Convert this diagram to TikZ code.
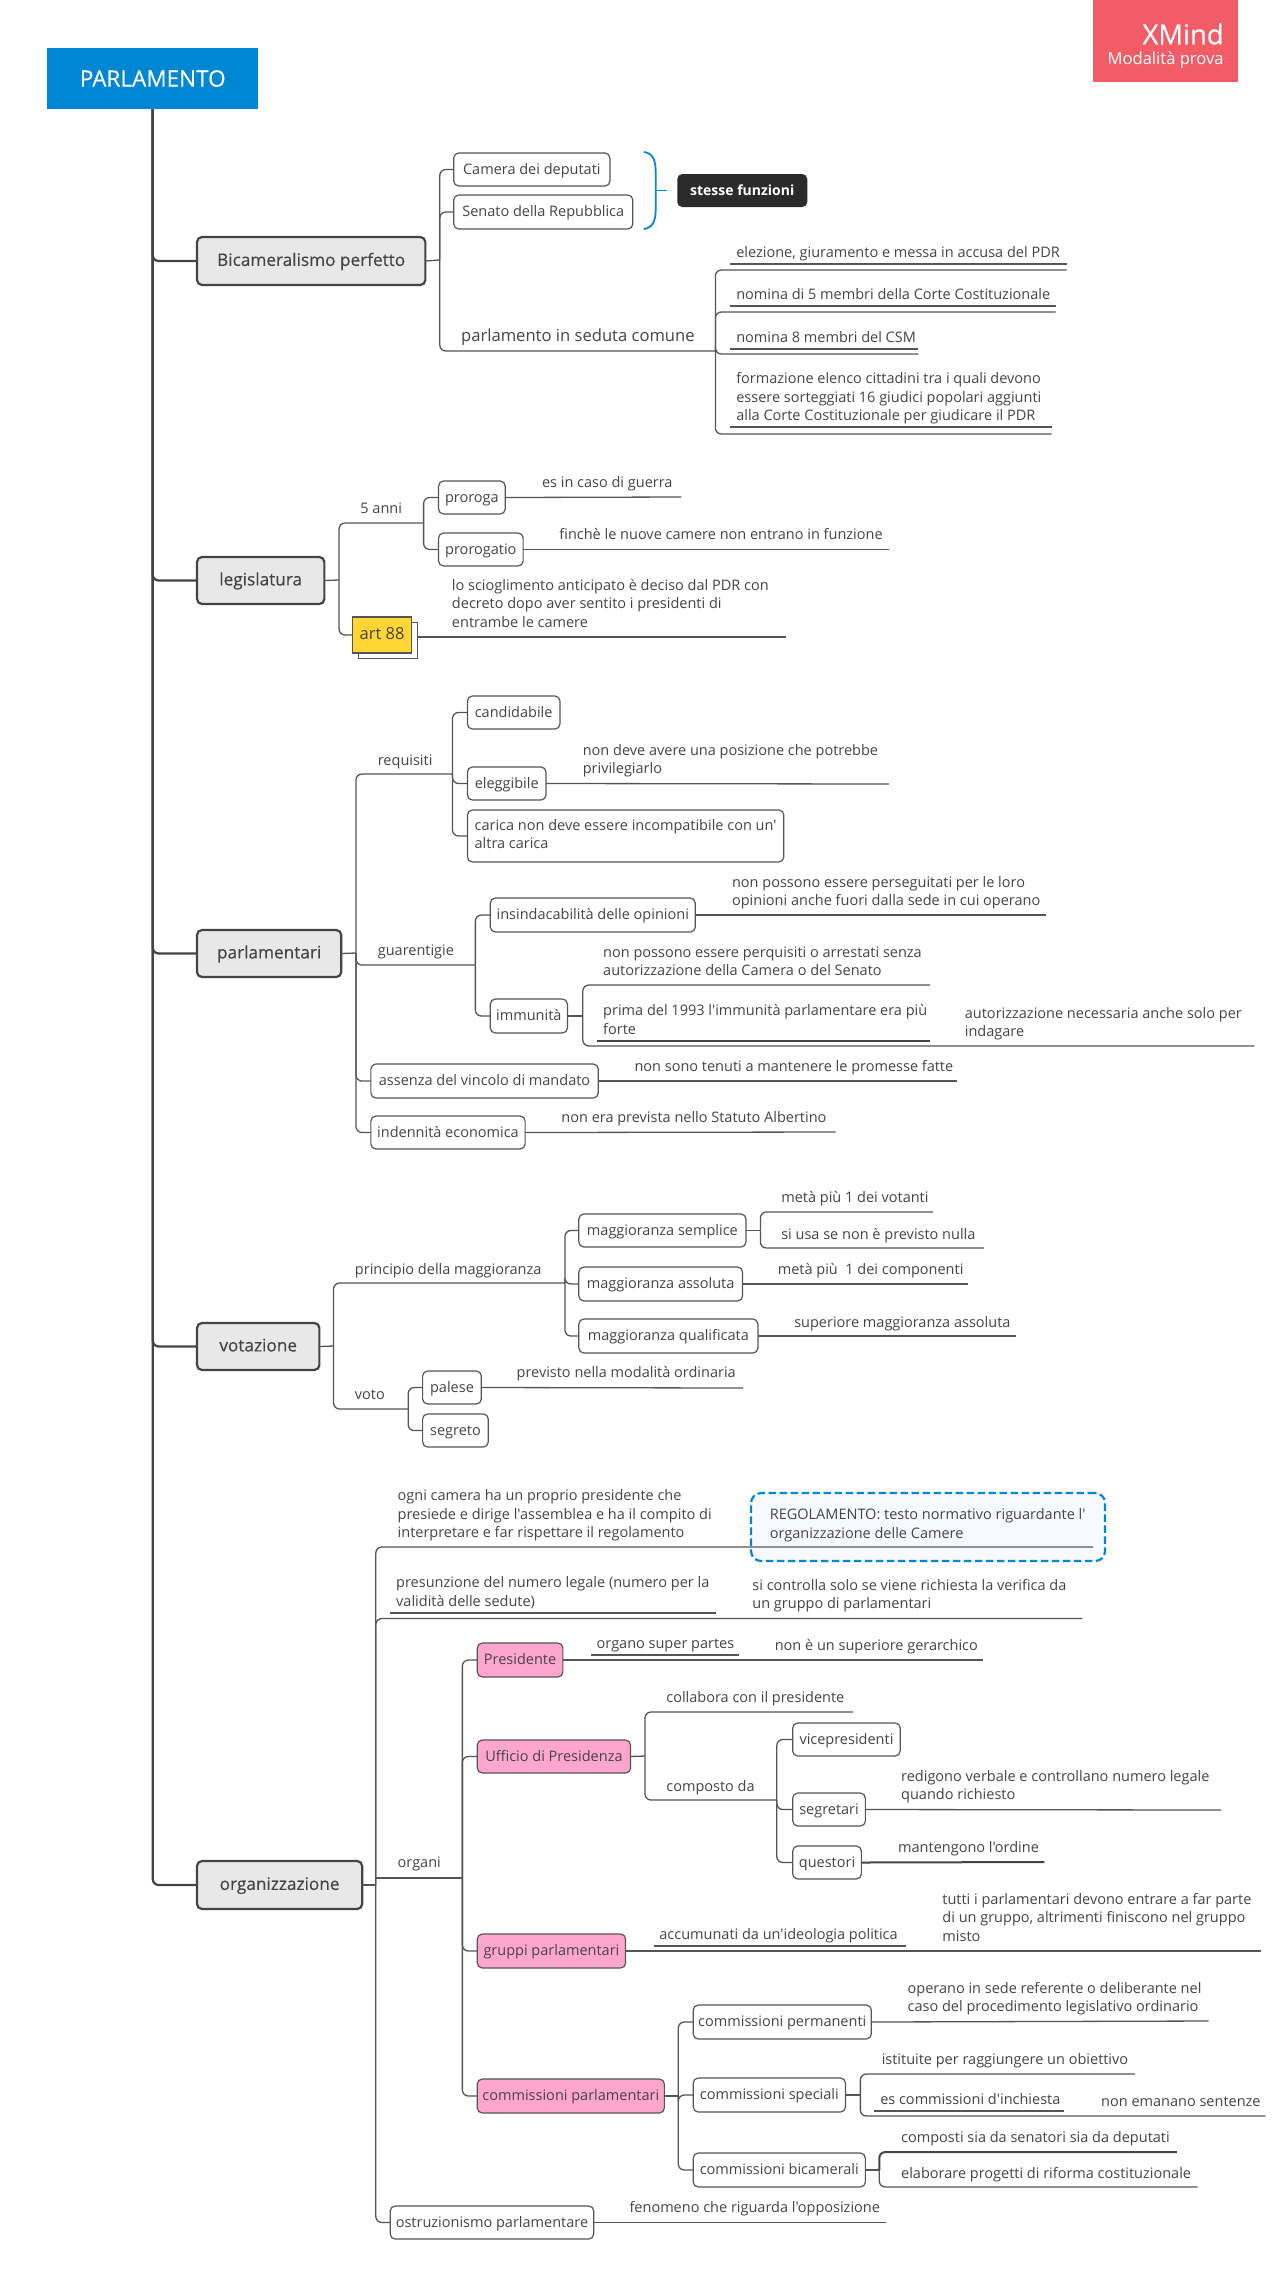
\documentclass[tikz,border=0pt]{standalone}
\usepackage{fontspec}
\setmainfont[Ligatures=TeXOff]{Open Sans}
\newfontfamily\medf[FakeBold=0.3,Ligatures=TeXOff]{Open Sans}
\definecolor{ink}{HTML}{444444}
\definecolor{linec}{HTML}{555555}
\definecolor{topicfill}{HTML}{E8E8E8}
\definecolor{pinkfill}{HTML}{FFA6CF}
\definecolor{yell}{HTML}{FFD633}
\definecolor{bluec}{HTML}{0087D4}
\definecolor{redc}{HTML}{F25C66}
\definecolor{pill}{HTML}{2B2B2B}
\definecolor{regfill}{HTML}{F7F9FF}
\newcommand{\bstrut}{\rule[-4.35pt]{0pt}{18.5pt}}
\tikzset{
 x=.995pt,y=-1pt,
 txt/.style={anchor=west,inner sep=0,outer sep=0,align=left,text=ink,yshift=-1.2pt,font=\fontsize{14.5}{18.5}\selectfont,execute at begin node=\strut,execute at end node=\strut},
 boxbase/.style={rounded corners=5,inner sep=0,outer sep=0,align=left,text=ink,font=\fontsize{14.5}{18.5}\selectfont,execute at begin node=\bstrut,execute at end node=\bstrut},
 subbox/.style={boxbase,draw=linec,line width=1.2pt,fill=white},
 pinkbox/.style={boxbase,draw=linec,line width=1.2pt,fill=pinkfill},
 mainbox/.style={boxbase,draw=ink,line width=2.2pt,fill=topicfill,font=\fontsize{17.2}{18.5}\medf},
 spine/.style={draw=ink,line width=2.2pt,rounded corners=6},
 conn/.style={draw=linec,line width=1.3pt,rounded corners=6},
 ulin/.style={draw=linec,line width=1.3pt},
 uthick/.style={draw=ink,line width=2pt},
}
\newcommand{\bxt}[7][]{\node[#2,minimum width={(#5-#3)*.995},minimum height={#6-#4},#1] (#7) at ({(#3+#5)/2},{(#4+#6)/2})}
\newcommand{\lbl}[4]{\node[txt] (#1) at (#2,#3) {#4};}
\newcommand{\under}[5][ulin]{\coordinate (#2s) at (#3,#5);\coordinate (#2e) at (#4,#5);\draw[#1] (#2s) -- (#2e);}
\begin{document}
\begin{tikzpicture}
\path[use as bounding box,fill=white] (0,0) rectangle (1286.43,2287);
% watermark
\node[fill=redc,minimum width=145.3,minimum height=82,inner sep=0] (wm) at (1171.2,41) {};
\node[anchor=east,text=white,inner sep=0,font=\fontsize{27.4}{30}\medf] (wm1) at (1230,34) {XMind};
\node[anchor=east,text=white,inner sep=0,font=\fontsize{16.6}{20}\selectfont] (wm2) at (1230,60) {Modalità prova};
% root
\node[fill=bluec,text=white,minimum width=211,minimum height=61,inner sep=0,font=\fontsize{22.5}{26}\medf] (root) at (153.5,78.5) {PARLAMENTO};
% main topics
\bxt{mainbox}{198}{237}{427.5}{285}{bic} {Bicameralismo perfetto};
\bxt{mainbox}{198}{557}{326}{604}{leg} {legislatura};
\bxt{mainbox}{198}{930}{343}{977}{par} {parlamentari};
\bxt{mainbox}{198}{1323}{321}{1370}{vot} {votazione};
\bxt{mainbox}{198}{1861}{364}{1909}{org} {organizzazione};
\draw[spine] (root.south) |- (bic.west);
\draw[spine] (root.south) |- (leg.west);
\draw[spine] (root.south) |- (par.west);
\draw[spine] (root.south) |- (vot.west);
\draw[spine] (root.south) |- (org.west);

% --- Bicameralismo
\coordinate (bicbr) at (442,260);
\draw[conn] (bic.east) -- (bicbr);
\bxt{subbox}{456}{153}{613}{186}{cam} {Camera dei deputati};
\bxt{subbox}{456}{195}{636}{229}{sen} {Senato della Repubblica};
\draw[conn] (bicbr) |- (cam.west);
\draw[conn] (bicbr) |- (sen.west);
\draw[bluec,line width=1.8pt] (647,152) .. controls (656,153) and (659,160) .. (659,172) -- (659,209) .. controls (659,221) and (656,228) .. (647,229);
\draw[bluec,line width=1.8pt] (659,190.5) -- (670,190.5);
\node[fill=pill,rounded corners=5,text=white,minimum width=130,minimum height=33,inner sep=0,font=\fontsize{14}{18}\bfseries\selectfont] (stesse) at (746,190.5) {stesse funzioni};
\node[txt,font=\fontsize{16.6}{20}\selectfont] (psc) at (463.5,336) {parlamento in seduta comune};
\coordinate (pscbr) at (719,351);
\draw[conn] (bicbr) |- (pscbr);
\lbl{el}{740}{253}{elezione, giuramento e messa in accusa del PDR}
\under{elu}{734}{1072}{264}
\coordinate (ele) at (1072,270);
\draw[conn] (pscbr) |- (ele);
\lbl{no5}{740}{295}{nomina di 5 membri della Corte Costituzionale}
\under{no5u}{734}{1061}{306}
\coordinate (no5e) at (1061,312);
\draw[conn] (pscbr) |- (no5e);
\lbl{no8}{740}{338}{nomina 8 membri del CSM}
\under{no8u}{734}{923}{349}
\coordinate (no8e) at (923,354);
\draw[conn] (pscbr) |- (no8e);
\lbl{form}{740}{398.5}{formazione elenco cittadini tra i quali devono\\essere sorteggiati 16 giudici popolari aggiunti\\alla Corte Costituzionale per giudicare il PDR}
\under{formu}{734}{1057}{427}
\coordinate (forme) at (1057,434);
\draw[conn] (pscbr) |- (forme);

\begin{scope}[xshift=.75pt]
% --- legislatura
\coordinate (legbr) at (340,580);
\draw[conn] (leg.east) -- (legbr);
\lbl{anni}{361.5}{509}{5 anni}
\coordinate (annibr) at (425,523);
\draw[conn] (legbr) |- (annibr);
\bxt{subbox}{440}{481}{507}{514}{prog} {proroga};
\bxt{subbox}{440}{533}{525}{566}{progt} {prorogatio};
\draw[conn] (annibr) |- (prog.west);
\draw[conn] (annibr) |- (progt.west);
\lbl{guer}{544}{483}{es in caso di guerra}
\coordinate (guere) at (684,497);
\draw[ulin] (prog.east) -- (guere);
\lbl{finc}{561.5}{535}{finchè le nuove camere non entrano in funzione}
\coordinate (fince) at (892.5,549.5);
\draw[ulin] (progt.east) -- (fince);
\draw[draw=linec,line width=1pt,fill=white] (360,622) rectangle (419,658);
\bxt[rounded corners=0,fill=yell,text=ink,font=\fontsize{16.5}{18.5}\selectfont]{subbox}{353.5}{617}{413}{653}{art} {art 88};
\draw[conn] (legbr) |- (art.west);
\lbl{sciog}{453.5}{605}{lo scioglimento anticipato è deciso dal PDR con\\decreto dopo aver sentito i presidenti di\\entrambe le camere}
\coordinate (sciogs) at (419,637);
\coordinate (scioge) at (789,637);
\draw[ulin] (sciogs) -- (scioge);

% --- parlamentari
\coordinate (parbr) at (357,953);
\draw[conn] (par.east) -- (parbr);
\lbl{req}{379}{761}{requisiti}
\coordinate (reqbr) at (454,774);
\draw[conn] (parbr) |- (reqbr);
\bxt{subbox}{469}{696}{562}{729}{cand} {candidabile};
\bxt{subbox}{469}{767}{548}{800}{eleg} {eleggibile};
\bxt{subbox}{469}{810}{787}{862}{car} {carica non deve essere incompatibile con un'\\altra carica};
\draw[conn] (reqbr) |- (cand.west);
\draw[conn] (reqbr) |- (eleg.west);
\draw[conn] (reqbr) |- (car.west);
\lbl{nondeve}{585}{760.5}{non deve avere una posizione che potrebbe\\privilegiarlo}
\coordinate (nondevee) at (892.5,784);
\draw[ulin] (eleg.east) -- (nondevee);
\lbl{gua}{379}{951}{guarentigie}
\coordinate (guabr) at (477,965);
\draw[conn] (parbr) |- (guabr);
\bxt{subbox}{492}{898}{698}{932}{ins} {insindacabilità delle opinioni};
\bxt{subbox}{492}{999}{569.5}{1033}{imm} {immunità};
\draw[conn] (guabr) |- (ins.west);
\draw[conn] (guabr) |- (imm.west);
\lbl{pers}{735}{892.5}{non possono essere perseguitati per le loro\\opinioni anche fuori dalla sede in cui operano}
\coordinate (perse) at (1050,915);
\draw[ulin] (ins.east) -- (perse);
\coordinate (immbr) at (585,1016);
\draw[conn] (imm.east) -- (immbr);
\lbl{perq}{605.5}{962.5}{non possono essere perquisiti o arrestati senza\\autorizzazione della Camera o del Senato}
\coordinate (perqe) at (934,985);
\draw[conn] (immbr) |- (perqe);
\lbl{prima}{605.5}{1021}{prima del 1993 l'immunità parlamentare era più\\forte}
\under[uthick]{primau}{599}{934}{1041}
\coordinate (primae) at (1260,1046);
\draw[conn] (immbr) |- (primae);
\lbl{aut}{969}{1023.5}{autorizzazione necessaria anche solo per\\indagare}
\bxt{subbox}{372}{1064}{600.5}{1098}{ass} {assenza del vincolo di mandato};
\bxt{subbox}{372}{1116}{527}{1149}{ind} {indennità economica};
\draw[conn] (parbr) |- (ass.west);
\draw[conn] (parbr) |- (ind.west);
\lbl{ten}{637}{1067}{non sono tenuti a mantenere le promesse fatte}
\coordinate (tene) at (961,1081);
\draw[ulin] (ass.east) -- (tene);
\lbl{stat}{563.5}{1118}{non era prevista nello Statuto Albertino}
\coordinate (state) at (839,1132);
\draw[ulin] (ind.east) -- (state);

% --- votazione
\coordinate (votbr) at (334.5,1346);
\draw[conn] (vot.east) -- (votbr);
\lbl{pri}{356}{1270}{principio della maggioranza}
\coordinate (pribr) at (567,1283);
\draw[conn] (votbr) |- (pribr);
\bxt{subbox}{581}{1214}{749}{1247}{msem} {maggioranza semplice};
\bxt{subbox}{581}{1267}{745.5}{1301}{mass} {maggioranza assoluta};
\bxt{subbox}{581}{1319}{761}{1353}{mqua} {maggioranza qualificata};
\draw[conn] (pribr) |- (msem.west);
\draw[conn] (pribr) |- (mass.west);
\draw[conn] (pribr) |- (mqua.west);
\coordinate (msbr) at (763.5,1230.5);
\draw[conn] (msem.east) -- (msbr);
\lbl{vot1}{784.5}{1198}{metà più 1 dei votanti}
\coordinate (vot1e) at (937,1212);
\draw[conn] (msbr) |- (vot1e);
\lbl{siusa}{784.5}{1235}{si usa se non è previsto nulla}
\coordinate (siusae) at (988,1248);
\draw[conn] (msbr) |- (siusae);
\lbl{metac}{781}{1270}{metà più\ \ 1 dei componenti}
\coordinate (metace) at (972,1284);
\draw[ulin] (mass.east) -- (metace);
\lbl{sup}{797.5}{1323}{superiore maggioranza assoluta}
\coordinate (supe) at (1020.5,1336);
\draw[ulin] (mqua.east) -- (supe);
\lbl{voto}{356}{1395}{voto}
\coordinate (votobr) at (409.5,1409);
\draw[conn] (votbr) |- (votobr);
\bxt{subbox}{424}{1371}{483}{1404}{pal} {palese};
\bxt{subbox}{424}{1414}{490}{1447}{seg} {segreto};
\draw[conn] (votobr) |- (pal.west);
\draw[conn] (votobr) |- (seg.west);
\lbl{prev}{518.5}{1373}{previsto nella modalità ordinaria}
\coordinate (preve) at (746,1388);
\draw[ulin] (pal.east) -- (preve);
\end{scope}

\begin{scope}[xshift=1.7pt]
% --- organizzazione
\coordinate (orgbr) at (376,1885);
\draw[conn] (org.east) -- (orgbr);
\node[draw=bluec,dash pattern=on 7.5pt off 3.5pt,line width=2.2pt,fill=regfill,rounded corners=10,minimum width=354,minimum height=68,inner sep=0] (reg) at (931,1527) {};
\lbl{ogni}{398}{1515.5}{ogni camera ha un proprio presidente che\\presiede e dirige l'assemblea e ha il compito di\\interpretare e far rispettare il regolamento}
\lbl{regt}{772}{1525}{REGOLAMENTO: testo normativo riguardante l'\\organizzazione delle Camere}
\coordinate (ognie) at (1097,1547);
\draw[conn] (orgbr) |- (ognie);
\lbl{pres}{396.5}{1593}{presunzione del numero legale (numero per la\\validità delle sedute)}
\under{presu}{390.5}{718}{1613}
\lbl{sic}{754.5}{1595.5}{si controlla solo se viene richiesta la verifica da\\un gruppo di parlamentari}
\coordinate (sice) at (1086,1618.5);
\draw[conn] (orgbr) |- (sice);
\lbl{organi}{398}{1863}{organi}
\coordinate (orbr) at (463,1878);
\draw[conn] (orgbr |- orbr) -- (orbr);
\bxt{pinkbox}{478}{1643}{564}{1677}{presi} {Presidente};
\bxt{pinkbox}{478}{1740}{632}{1773}{uff} {Ufficio di Presidenza};
\bxt{pinkbox}{478}{1934}{627}{1968}{grup} {gruppi parlamentari};
\bxt{pinkbox}{478}{2079}{666}{2113}{comm} {commissioni parlamentari};
\draw[conn] (orbr) |- (presi.west);
\draw[conn] (orbr) |- (uff.west);
\draw[conn] (orbr) |- (grup.west);
\draw[conn] (orbr) |- (comm.west);
\lbl{orgsp}{598}{1644}{organo super partes}
\under{orgspu}{592.5}{741}{1655}
\lbl{gera}{777}{1646}{non è un superiore gerarchico}
\coordinate (gerae) at (986,1660);
\draw[ulin] (presi.east) -- (gerae);
\coordinate (uffbr) at (646.5,1756);
\draw[conn] (uff.east) -- (uffbr);
\lbl{coll}{668}{1698}{collabora con il presidente}
\coordinate (colle) at (856,1712);
\draw[conn] (uffbr) |- (colle);
\lbl{comp}{668}{1787}{composto da}
\coordinate (compbr) at (779,1800);
\draw[conn] (uffbr) |- (compbr);
\bxt{subbox}{795}{1723}{903}{1756}{vice} {vicepresidenti};
\bxt{subbox}{795}{1793}{868}{1826}{segr} {segretari};
\bxt{subbox}{795}{1846}{864}{1879}{ques} {questori};
\draw[conn] (compbr) |- (vice.west);
\draw[conn] (compbr) |- (segr.west);
\draw[conn] (compbr) |- (ques.west);
\lbl{red}{904}{1786.5}{redigono verbale e controllano numero legale\\quando richiesto}
\coordinate (rede) at (1225.5,1810);
\draw[ulin] (segr.east) -- (rede);
\lbl{mant}{901}{1848}{mantengono l'ordine}
\coordinate (mante) at (1048,1862);
\draw[uthick] (ques.east) -- (mante);
\lbl{accu}{661}{1935}{accumunati da un'ideologia politica}
\under{accuu}{655.5}{909}{1946}
\lbl{tutti}{945.5}{1919}{tutti i parlamentari devono entrare a far parte\\di un gruppo, altrimenti finiscono nel gruppo\\misto}
\coordinate (tuttie) at (1266,1951);
\draw[ulin] (grup.east) -- (tuttie);
\coordinate (combr) at (680,2096);
\draw[conn] (comm.east) -- (combr);
\bxt{subbox}{695}{2005}{874}{2039}{cper} {commissioni permanenti};
\bxt{subbox}{695}{2078}{848}{2112}{cspe} {commissioni speciali};
\bxt{subbox}{695}{2153}{868}{2187}{cbic} {commissioni bicamerali};
\draw[conn] (combr) |- (cper.west);
\draw[conn] (combr) |- (cspe.west);
\draw[conn] (combr) |- (cbic.west);
\lbl{oper}{910.5}{1998.5}{operano in sede referente o deliberante nel\\caso del procedimento legislativo ordinario}
\coordinate (opere) at (1213,2021);
\draw[ulin] (cper.east) -- (opere);
\coordinate (spbr) at (863,2095);
\draw[conn] (cspe.east) -- (spbr);
\lbl{isti}{884.5}{2060}{istituite per raggiungere un obiettivo}
\coordinate (istie) at (1139,2074);
\draw[conn] (spbr) |- (istie);
\lbl{esc}{883}{2100}{es commissioni d'inchiesta}
\under{escu}{877}{1068}{2111}
\lbl{emana}{1105}{2102}{non emanano sentenze}
\coordinate (emanae) at (1270,2116);
\draw[conn] (spbr) |- (emanae);
\coordinate (bcbr) at (882,2170);
\draw[conn] (cbic.east) -- (bcbr);
\lbl{cmps}{904}{2138}{composti sia da senatori sia da deputati}
\coordinate (cmpse) at (1181,2152);
\draw[conn,draw=ink,line width=2pt] (bcbr) |- (cmpse);
\lbl{elab}{904}{2174}{elaborare progetti di riforma costituzionale}
\coordinate (elabe) at (1202,2187);
\draw[conn] (bcbr) |- (elabe);
\bxt{subbox}{390.5}{2206}{595}{2239}{ost} {ostruzionismo parlamentare};
\draw[conn] (orgbr) |- (ost.west);
\lbl{feno}{631}{2208}{fenomeno che riguarda l'opposizione}
\coordinate (fenoe) at (889,2222.5);
\draw[ulin] (ost.east) -- (fenoe);
\end{scope}
\end{tikzpicture}
\end{document}
